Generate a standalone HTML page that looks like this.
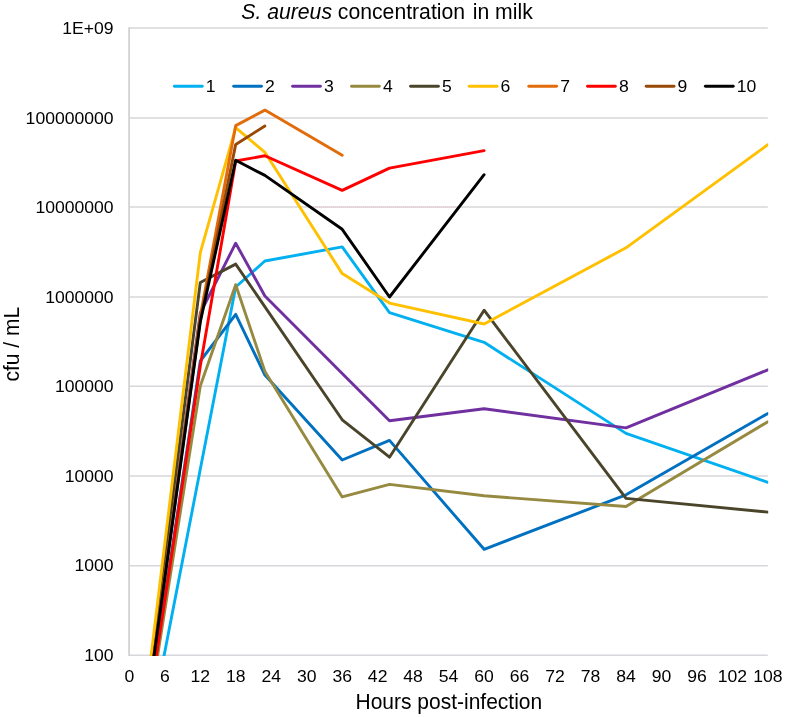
<!DOCTYPE html>
<html lang="en"><head><meta charset="utf-8"><title>S. aureus concentration in milk</title>
<style>
html,body{margin:0;padding:0;background:#fff;}
body{width:785px;height:717px;overflow:hidden;}
svg{display:block;}
text{font-family:"Liberation Sans",sans-serif;fill:#000;}
.t17{font-size:17.6px;}
.t20{font-size:21px;}
.t212{font-size:21.2px;}
</style></head><body>
<svg width="785" height="717" viewBox="0 0 785 717">
<rect width="785" height="717" fill="#fff"/>
<defs><clipPath id="pc"><rect x="128" y="20" width="640.2" height="636.1"/></clipPath></defs>

<g stroke="#D7D7DB" stroke-width="1.5" fill="none">
<line x1="129.3" y1="28.10" x2="767.8" y2="28.10"/>
<line x1="129.3" y1="118.00" x2="767.8" y2="118.00"/>
<line x1="129.3" y1="207.10" x2="767.8" y2="207.10"/>
<line x1="129.3" y1="297.00" x2="767.8" y2="297.00"/>
<line x1="129.3" y1="386.30" x2="767.8" y2="386.30"/>
<line x1="129.3" y1="476.10" x2="767.8" y2="476.10"/>
<line x1="129.3" y1="565.70" x2="767.8" y2="565.70"/>
<line x1="129.3" y1="655.20" x2="767.8" y2="655.20"/>
<line x1="129.1" y1="27.35" x2="129.1" y2="656.05" stroke="#CFCFCF" stroke-width="1.7"/>
</g>
<line x1="315" y1="207.10" x2="460" y2="207.10" stroke="#F2BCC8" stroke-width="1" stroke-dasharray="1 1"/>
<g clip-path="url(#pc)" fill="none" stroke-width="2.9" stroke-linejoin="round" stroke-linecap="round">
<polyline stroke="#00B0F0" points="129.3,834.5 235.7,287.0 264.9,261.0 342.2,246.9 389.5,312.7 484.1,342.3 626.0,433.4 767.9,482.3"/>
<polyline stroke="#0070C0" points="129.3,834.5 200.3,361.0 235.7,314.4 264.9,375.1 342.2,460.0 389.5,440.4 484.1,549.3 626.0,494.8 767.9,413.4"/>
<polyline stroke="#7030A0" points="129.3,834.5 200.3,313.0 235.7,243.2 264.9,296.0 342.2,373.5 389.5,420.7 484.1,408.8 626.0,427.9 767.9,369.8"/>
<polyline stroke="#968A40" points="129.3,834.5 200.3,386.0 235.7,284.7 264.9,371.4 342.2,496.9 389.5,484.4 484.1,495.8 626.0,506.5 767.9,421.7"/>
<polyline stroke="#4A452A" points="129.3,834.5 200.3,282.5 235.7,264.1 342.2,419.8 389.5,457.2 484.1,310.2 626.0,498.4 767.9,512.1"/>
<polyline stroke="#FFC000" points="129.3,834.5 200.3,252.7 235.7,127.7 264.9,152.3 342.2,273.6 389.5,303.1 484.1,324.0 626.0,247.8 767.9,144.6"/>
<polyline stroke="#E36C0A" points="129.3,834.5 200.3,316.0 235.7,125.6 264.9,110.1 342.2,155.2"/>
<polyline stroke="#FF0000" points="129.3,834.5 200.3,366.0 235.7,161.0 264.9,155.8 342.2,190.4 389.5,168.1 484.1,150.6"/>
<polyline stroke="#984807" points="129.3,834.5 200.3,320.0 235.7,144.4 264.9,126.0"/>
<polyline stroke="#000000" points="129.3,834.5 200.3,322.0 235.7,160.3 264.9,175.4 342.2,229.3 389.5,297.0 484.1,174.7"/>
</g>
<g stroke-width="2.9" stroke-linecap="round" fill="none">
<line x1="174.4" y1="86.3" x2="202.2" y2="86.3" stroke="#00B0F0"/>
<line x1="233.7" y1="86.3" x2="261.5" y2="86.3" stroke="#0070C0"/>
<line x1="292.6" y1="86.3" x2="320.4" y2="86.3" stroke="#7030A0"/>
<line x1="351.5" y1="86.3" x2="379.3" y2="86.3" stroke="#968A40"/>
<line x1="410.6" y1="86.3" x2="438.4" y2="86.3" stroke="#4A452A"/>
<line x1="469.2" y1="86.3" x2="497.0" y2="86.3" stroke="#FFC000"/>
<line x1="528.8" y1="86.3" x2="556.6" y2="86.3" stroke="#E36C0A"/>
<line x1="587.5" y1="86.3" x2="615.3" y2="86.3" stroke="#FF0000"/>
<line x1="646.2" y1="86.3" x2="674.0" y2="86.3" stroke="#984807"/>
<line x1="705.4" y1="86.3" x2="733.2" y2="86.3" stroke="#000000"/>
</g>
<text class="t17" transform="translate(205.80,92.00) scale(1,0.955)">1</text>
<text class="t17" transform="translate(265.10,92.00) scale(1,0.955)">2</text>
<text class="t17" transform="translate(324.00,92.00) scale(1,0.955)">3</text>
<text class="t17" transform="translate(382.90,92.00) scale(1,0.955)">4</text>
<text class="t17" transform="translate(442.00,92.00) scale(1,0.955)">5</text>
<text class="t17" transform="translate(500.60,92.00) scale(1,0.955)">6</text>
<text class="t17" transform="translate(560.20,92.00) scale(1,0.955)">7</text>
<text class="t17" transform="translate(618.90,92.00) scale(1,0.955)">8</text>
<text class="t17" transform="translate(677.60,92.00) scale(1,0.955)">9</text>
<text class="t17" transform="translate(736.80,92.00) scale(1,0.955)">10</text>
<text class="t17" text-anchor="end" transform="translate(113.60,33.60) scale(1,0.955)">1E+09</text>
<text class="t17" text-anchor="end" transform="translate(113.60,123.50) scale(1,0.955)">100000000</text>
<text class="t17" text-anchor="end" transform="translate(113.60,212.60) scale(1,0.955)">10000000</text>
<text class="t17" text-anchor="end" transform="translate(113.60,302.50) scale(1,0.955)">1000000</text>
<text class="t17" text-anchor="end" transform="translate(113.60,391.80) scale(1,0.955)">100000</text>
<text class="t17" text-anchor="end" transform="translate(113.60,481.60) scale(1,0.955)">10000</text>
<text class="t17" text-anchor="end" transform="translate(113.60,571.20) scale(1,0.955)">1000</text>
<text class="t17" text-anchor="end" transform="translate(113.60,660.70) scale(1,0.955)">100</text>
<text class="t17" text-anchor="middle" transform="translate(129.30,682.30) scale(1,0.955)">0</text>
<text class="t17" text-anchor="middle" transform="translate(164.78,682.30) scale(1,0.955)">6</text>
<text class="t17" text-anchor="middle" transform="translate(200.26,682.30) scale(1,0.955)">12</text>
<text class="t17" text-anchor="middle" transform="translate(235.73,682.30) scale(1,0.955)">18</text>
<text class="t17" text-anchor="middle" transform="translate(271.21,682.30) scale(1,0.955)">24</text>
<text class="t17" text-anchor="middle" transform="translate(306.69,682.30) scale(1,0.955)">30</text>
<text class="t17" text-anchor="middle" transform="translate(342.17,682.30) scale(1,0.955)">36</text>
<text class="t17" text-anchor="middle" transform="translate(377.64,682.30) scale(1,0.955)">42</text>
<text class="t17" text-anchor="middle" transform="translate(413.12,682.30) scale(1,0.955)">48</text>
<text class="t17" text-anchor="middle" transform="translate(448.60,682.30) scale(1,0.955)">54</text>
<text class="t17" text-anchor="middle" transform="translate(484.08,682.30) scale(1,0.955)">60</text>
<text class="t17" text-anchor="middle" transform="translate(519.56,682.30) scale(1,0.955)">66</text>
<text class="t17" text-anchor="middle" transform="translate(555.03,682.30) scale(1,0.955)">72</text>
<text class="t17" text-anchor="middle" transform="translate(590.51,682.30) scale(1,0.955)">78</text>
<text class="t17" text-anchor="middle" transform="translate(625.99,682.30) scale(1,0.955)">84</text>
<text class="t17" text-anchor="middle" transform="translate(661.47,682.30) scale(1,0.955)">90</text>
<text class="t17" text-anchor="middle" transform="translate(696.94,682.30) scale(1,0.955)">96</text>
<text class="t17" text-anchor="middle" transform="translate(732.42,682.30) scale(1,0.955)">102</text>
<text class="t17" text-anchor="middle" transform="translate(767.90,682.30) scale(1,0.955)">108</text>
<text class="t20 t212" transform="translate(241.30,18.70) scale(1,1.06)"><tspan font-style="italic">S. aureus</tspan> concentration <tspan dx="1.8">in milk</tspan></text>
<text class="t20" transform="translate(355.50,709.30) scale(1,1.06)">Hours post-infection</text>
<text class="t20" transform="translate(19.00,381.50) rotate(-90) scale(1,1.06)">cfu / mL</text>
</svg></body></html>
